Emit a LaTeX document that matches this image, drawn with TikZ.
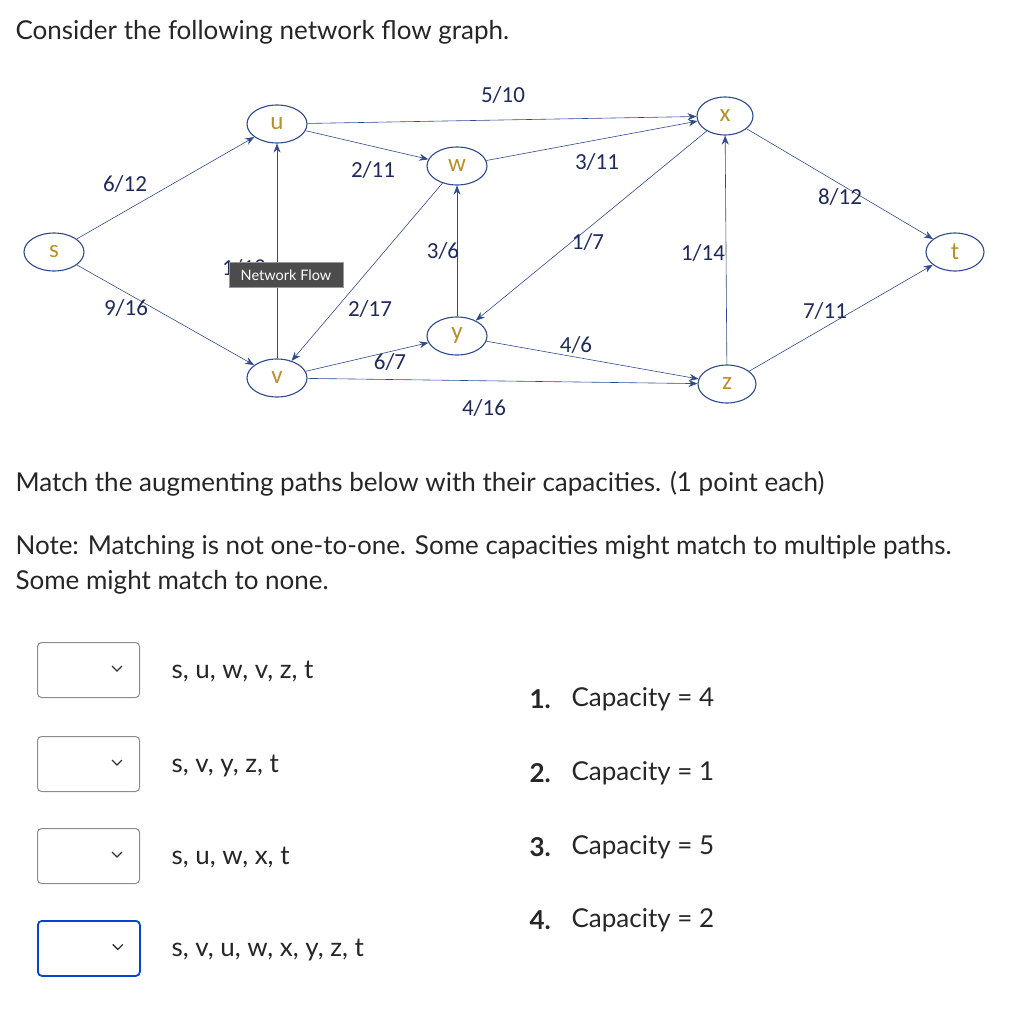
\documentclass[tikz,border=0pt]{standalone}
\usepackage{fontspec}
\setmainfont{Lato}
\newfontfamily\calfont{Carlito}
\usetikzlibrary{arrows.meta,shapes.geometric}
\definecolor{navy}{HTML}{2E4A8C}
\definecolor{lab}{HTML}{1F2A5C}
\definecolor{gold}{HTML}{B8902A}
\begin{document}
\begin{tikzpicture}[x=1pt,y=-1pt,
 nd/.style={ellipse,draw=navy,line width=1.1pt,minimum width=60pt,minimum height=38pt,inner sep=0pt,text=gold,font=\calfont\fontsize{25}{25}\selectfont},
 ed/.style={draw=navy,line width=0.6pt,-{Stealth[length=9pt,width=7pt]}},
 lb/.style={text=lab,font=\calfont\fontsize{23}{23}\selectfont},
 tx/.style={anchor=west,font=\fontsize{26}{30}\selectfont,text=black!85},
 dd/.style={draw=black!45,line width=1pt,rounded corners=4pt,minimum width=102pt,minimum height=55pt,anchor=north west,inner sep=0pt},
 chev/.style={draw=black!80,line width=1.3pt}]
\useasboundingbox (0,0) rectangle (1024,1009);
\node[tx] (title) at (12,32) {Consider the following network flow graph.};
\node[nd] (s) at (54,252) {s};
\node[nd] (u) at (277,124) {u};
\node[nd] (v) at (277,378) {v};
\node[nd] (w) at (457,166) {w};
\node[nd] (y) at (457,336) {y};
\node[nd,minimum width=56pt] (x) at (725,116) {x};
\node[nd,minimum width=58pt] (z) at (727,384) {z};
\node[nd,minimum width=58pt] (t) at (955,252) {t};
\draw[ed] (s) -- (u);
\draw[ed] (s) -- (v);
\draw[ed] (u) -- (x);
\draw[ed] (u) -- (w);
\draw[ed] (w) -- (x);
\draw[ed] (w) -- (v);
\draw[ed] (v) -- (u);
\draw[ed] (y) -- (w);
\draw[ed] (x) -- (y);
\draw[ed] (z) -- (x);
\draw[ed] (y) -- (z);
\draw[ed] (v) -- (z);
\draw[ed] (v) -- (y);
\draw[ed] (x) -- (t);
\draw[ed] (z) -- (t);
\node[lb] (l1) at (125,184) {6/12};
\node[lb] (l2) at (126,308) {9/16};
\node[lb] (l3) at (244,268) {1/18};
\node[lb] (l4) at (373,170) {2/11};
\node[lb] (l5) at (503,95) {5/10};
\node[lb] (l6) at (597,162) {3/11};
\node[lb] (l7) at (443,251) {3/6};
\node[lb] (l8) at (370,309) {2/17};
\node[lb] (l9) at (390,362) {6/7};
\node[lb] (l10) at (484,408) {4/16};
\node[lb] (l11) at (588,242) {1/7};
\node[lb] (l12) at (703,253) {1/14};
\node[lb] (l13) at (576,345) {4/6};
\node[lb] (l14) at (840,197) {8/12};
\node[lb] (l15) at (825,311) {7/11};
\node[fill=black!70,draw=black!40,minimum width=114pt,minimum height=25pt,inner sep=0pt,text=white,font=\fontsize{14.5}{14}\selectfont] (tip) at (286,275) {Network Flow};
\node[tx] (q1) at (12,484) {Match the augmenting paths below with their capacities. (1 point each)};
\node[tx] (q2) at (12,547) {Note: Matching is not one-to-one. Some capacities might match to multiple paths.};
\node[tx] (q3) at (12,582) {Some might match to none.};
\foreach \i/\yy/\p in {1/642/{s, u, w, v, z, t},2/736/{s, v, y, z, t},3/828/{s, u, w, x, t}}{
 \node[dd] (d\i) at (37,\yy) {};
 \draw[chev] ([xshift=-28pt,yshift=4pt]d\i.east) -- ([xshift=-23pt,yshift=-1pt]d\i.east) -- ([xshift=-18pt,yshift=4pt]d\i.east);
 \node[tx] (p\i) at (168,\yy+30) {\p};
}
\node[dd,draw=blue!65!cyan!80!black,line width=1.8pt] (d4) at (37,920) {};
\draw[chev] ([xshift=-28pt,yshift=4pt]d4.east) -- ([xshift=-23pt,yshift=-1pt]d4.east) -- ([xshift=-18pt,yshift=4pt]d4.east);
\node[tx] (p4) at (168,950) {s, v, u, w, x, y, z, t};
\foreach \i/\yy/\c in {1/699/4,2/773/1,3/847/5,4/920/2}{
 \node[tx,font=\bfseries\fontsize{26}{30}\selectfont] (n\i) at (526,\yy) {\i.};
 \node[tx] (c\i) at (568,\yy) {Capacity = \c};
}
\end{tikzpicture}
\end{document}
